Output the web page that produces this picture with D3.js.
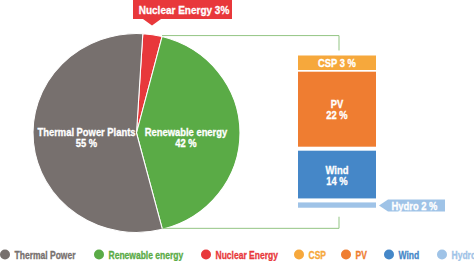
<!DOCTYPE html>
<html><head><meta charset="utf-8">
<script src="https://cdn.jsdelivr.net/npm/d3@7"></script>
<style>
body{margin:0;background:#fff;}
text{font-family:"Liberation Sans",Arial,sans-serif;font-weight:bold;}
</style></head><body>
<svg id="c" width="474" height="261"></svg>
<script>
const pieCats = ["Nuclear Energy", "Renewable energy", "Thermal Power Plants"];
const pieVals = [3, 42, 55];
const pieColors = ["#e8383b", "#5aab46", "#77706e"];

const barCats = ["CSP", "PV", "Wind", "Hydro"];
const barVals = [3, 22, 14, 2];
const barColors = ["#f6a83c", "#ef7d31", "#4587c8", "#9fc3e7"];

const legendLabels = ["Thermal Power", "Renewable energy", "Nuclear Energy", "CSP", "PV", "Wind", "Hydro"];
const legendColors = ["#77706e", "#5aab46", "#e8383b", "#f6a83c", "#ef7d31", "#4587c8", "#9fc3e7"];

const svg = d3.select("#c");
const cx = 136.5, cy = 133, R = 99.5, sx = 1.04;
const offset = 3.5 * Math.PI / 180;

const pie = d3.pie().sort(null).startAngle(offset).endAngle(2 * Math.PI + offset);
const arcs = pie(pieVals);
const arc = d3.arc().innerRadius(0).outerRadius(R);

const barX = 298, barW = 78;
const ren = arcs[1];
const pt = a => [cx + sx * R * Math.sin(a), cy - R * Math.cos(a)];
const pTop = pt(ren.startAngle), pBot = pt(ren.endAngle);
const lineX = 339;

const gPie = svg.append("g").attr("transform", `translate(${cx},${cy}) scale(${sx},1)`);
gPie.selectAll("path").data(arcs).enter().append("path")
  .attr("d", arc).attr("fill", (d, i) => pieColors[i])
  .attr("stroke", "#fff").attr("stroke-width", 1).attr("stroke-linejoin", "round");

// bars
const hScale = d3.scaleLinear().domain([0, 22]).range([0, 75]);
const minH = [14.5, 0, 0, 0];
const gaps = [1.7, 4, 4, 0];
let y = 55.5;
const bars = barVals.map((v, i) => {
  const h = Math.max(hScale(v), minH[i]);
  const b = {y: y, h: h, v: v, cat: barCats[i], color: barColors[i]};
  y += h + gaps[i];
  return b;
});
bars[3].h = 5.3;

const lineCol = "#93c584";
svg.append("path").attr("fill", "none").attr("stroke", lineCol).attr("stroke-width", 1)
  .attr("d", `M${pTop[0]},${pTop[1] - 1}H${lineX}V${bars[0].y - 5}`);
svg.append("path").attr("fill", "none").attr("stroke", lineCol).attr("stroke-width", 1)
  .attr("d", `M${pBot[0]},${pBot[1] - 1}H${lineX}V${bars[3].y + bars[3].h + 9}`);

svg.selectAll("rect.bar").data(bars).enter().append("rect").attr("class", "bar")
  .attr("x", barX).attr("width", barW).attr("y", d => d.y).attr("height", d => d.h)
  .attr("fill", d => d.color);

const FS = 10.5;
function addText(x, yy, str, color, anchor, size, cls) {
  return svg.append("text").attr("class", cls || "lbl").attr("x", x).attr("y", yy)
    .attr("text-anchor", anchor || "middle").attr("fill", color)
    .attr("stroke", color).attr("stroke-width", 0.3)
    .attr("font-size", size || FS).text(str);
}

// bar labels
addText(barX + barW / 2, bars[0].y + bars[0].h / 2 + 3.8, `${barCats[0]} ${barVals[0]} %`, "#fff");
[1, 2].forEach(i => {
  const b = bars[i];
  addText(barX + barW / 2, b.y + b.h / 2 - 1, b.cat, "#fff");
  addText(barX + barW / 2, b.y + b.h / 2 + 10, `${b.v} %`, "#fff");
});

// hydro tag
const hb = bars[3];
const hy = hb.y + hb.h / 2 + 0.5;
svg.append("path").attr("fill", barColors[3])
  .attr("d", `M379,${hy} L388,${hy - 6} H445 V${hy + 6} H388 Z`);
addText(414.5, hy + 4, `${barCats[3]} ${barVals[3]} %`, "#fff");

// nuclear callout
svg.append("path").attr("fill", pieColors[0])
  .attr("d", "M133,0 H232 V19 H161 L152,25.5 L143,19 H133 Z");
addText(184, 13.5, `${pieCats[0]} ${pieVals[0]}%`, "#fff", "middle", 11.2);

// pie labels
[{x: 86.5, c: pieCats[2], v: pieVals[2]}, {x: 186, c: pieCats[1], v: pieVals[1]}].forEach(p => {
  addText(p.x, 136, p.c, "#fff");
  addText(p.x, 147, `${p.v} %`, "#fff");
});

// legend
const legX = [5, 99, 206, 299, 346, 389, 442];
legendLabels.forEach((d, i) => {
  svg.append("circle").attr("cx", legX[i]).attr("cy", 254.5).attr("r", 5).attr("fill", legendColors[i]);
  addText(legX[i] + 9.5, 259, d, legendColors[i], "start", FS, "leg");
});

// condensed look: compress glyphs horizontally
function condense(sel, refStr, target) {
  const nodes = svg.selectAll(sel).nodes();
  const ref = nodes.find(n => n.textContent === refStr);
  const f = target / ref.getComputedTextLength();
  nodes.forEach(n => {
    const L = n.getComputedTextLength();
    n.setAttribute("textLength", (L * f).toFixed(2));
    n.setAttribute("lengthAdjust", "spacingAndGlyphs");
  });
}
condense("text.lbl", pieCats[2], 98);
condense("text.leg", legendLabels[0], 61);
</script>
</body></html>
